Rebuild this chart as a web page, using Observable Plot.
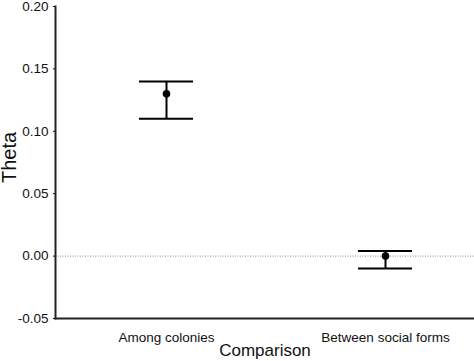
<!DOCTYPE html>
<html><head><meta charset="utf-8">
<script src="https://cdn.jsdelivr.net/npm/d3@7"></script>
<script src="https://cdn.jsdelivr.net/npm/@observablehq/plot@0.6"></script>
<style>body{margin:0;background:#fff} svg{display:block}</style>
</head><body><div id="chart"></div>
<script>
const comparisons = ["Among colonies", "Between social forms"];
const theta = [0.130, 0.000];
const lower = [0.110, -0.010];
const upper = [0.140, 0.004];
const yTicks = [-0.05, 0, 0.05, 0.10, 0.15, 0.20];
const yLabel = "Theta";
const xLabel = "Comparison";

const data = comparisons.map((c, i) => ({comparison: c, theta: theta[i], lower: lower[i], upper: upper[i]}));

const chart = Plot.plot({
  width: 474, height: 361,
  marginLeft: 55, marginRight: 0, marginTop: 6, marginBottom: 43,
  style: {fontFamily: "'Liberation Sans', Arial, sans-serif", fontSize: "13.5px", color: "#111", background: "#fff", overflow: "visible"},
  x: {type: "band", domain: comparisons, paddingInner: 0.7545, paddingOuter: 0, insetLeft: 83, insetRight: 62},
  y: {domain: [-0.05, 0.20]},
  marks: [
    Plot.ruleY([0], {stroke: "#888", strokeDasharray: "1,1.5", strokeWidth: 1}),
    Plot.frame({anchor: "left", stroke: "#222", strokeWidth: 2}),
    Plot.frame({anchor: "bottom", stroke: "#222", strokeWidth: 2}),
    Plot.axisY({ticks: yTicks, tickFormat: d => d.toFixed(2), tickSize: 2, tickPadding: 5, label: null, fontSize: 13.5}),
    Plot.axisX({tickSize: 0, tickPadding: 14, label: null, fontSize: 13.5}),
    Plot.text([yLabel], {text: d => d, frameAnchor: "left", textAnchor: "middle", rotate: -90, dx: -45.5, dy: -5, fontSize: 20}),
    Plot.text([xLabel], {text: d => d, frameAnchor: "bottom", textAnchor: "middle", dy: 37, fontSize: 17}),
    Plot.ruleX(data, {x: "comparison", y1: "lower", y2: "upper", stroke: "black", strokeWidth: 2}),
    Plot.tickY(data, {x: "comparison", y: "lower", stroke: "black", strokeWidth: 2}),
    Plot.tickY(data, {x: "comparison", y: "upper", stroke: "black", strokeWidth: 2}),
    Plot.dot(data, {x: "comparison", y: "theta", r: 3.8, fill: "black"})
  ]
});
document.getElementById("chart").appendChild(chart);
</script>
</body></html>
